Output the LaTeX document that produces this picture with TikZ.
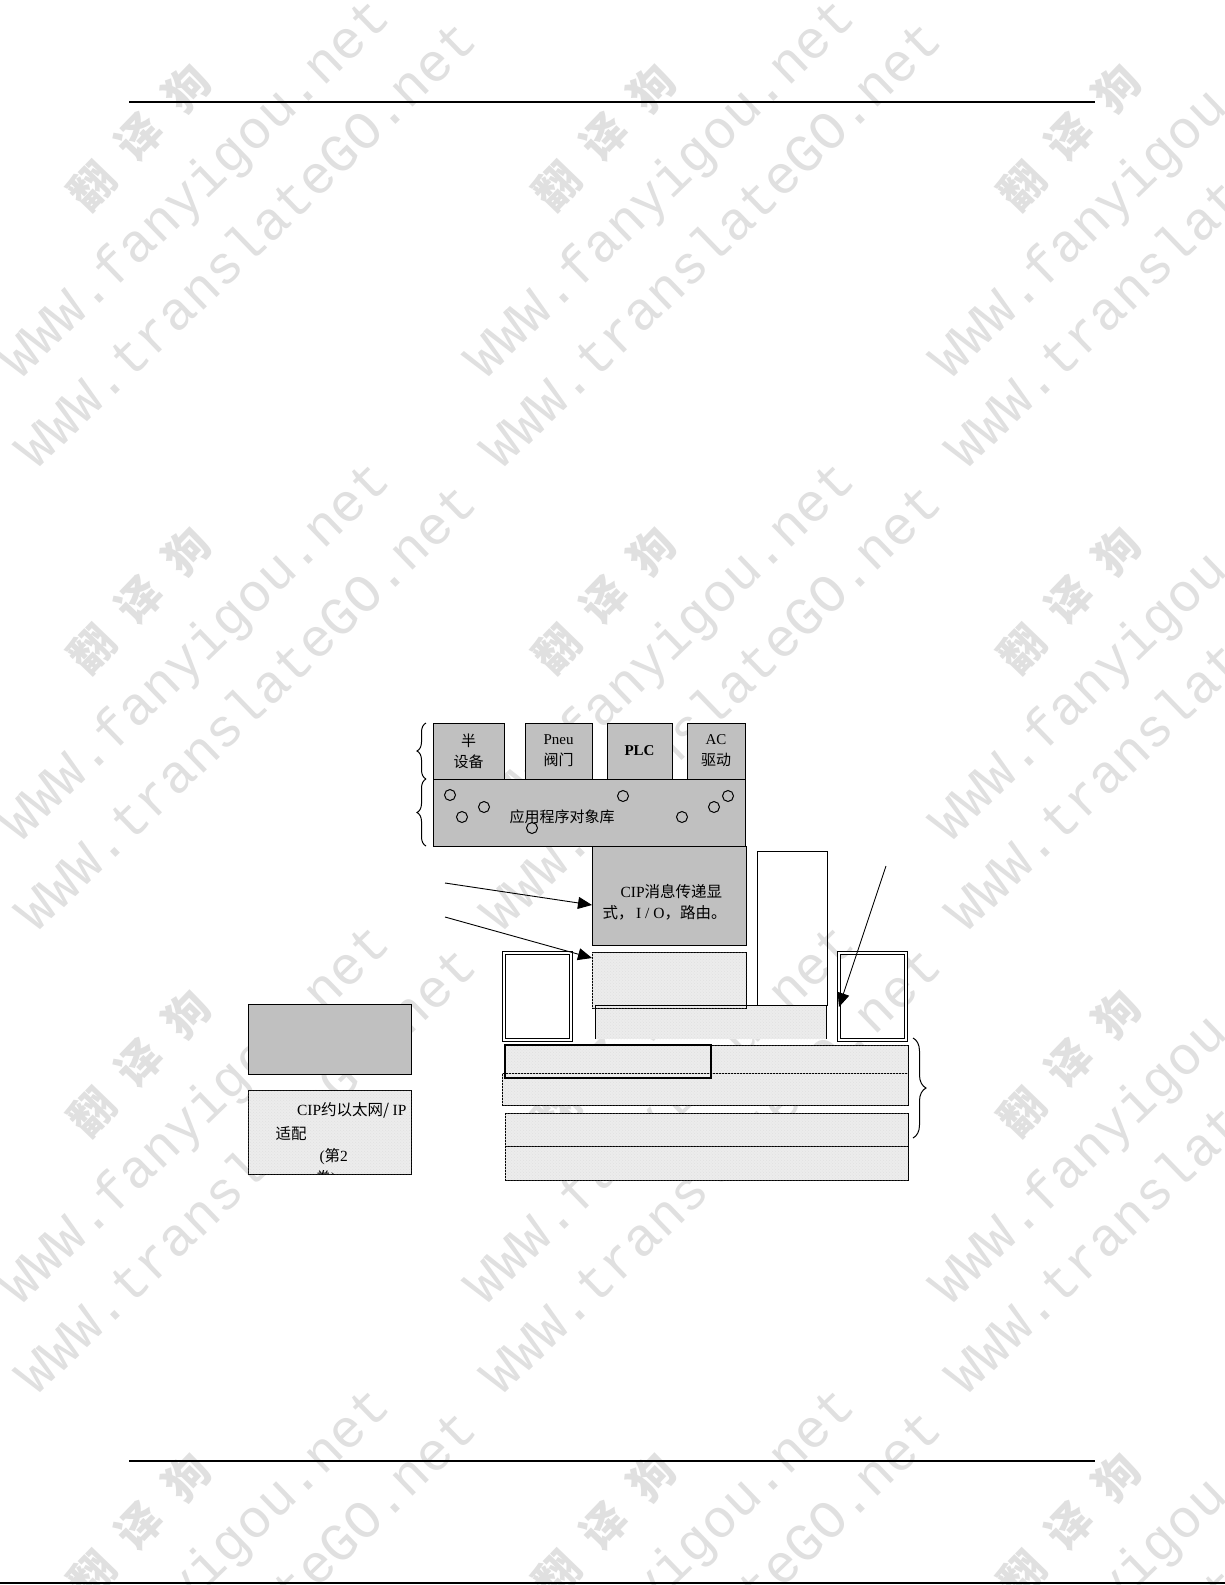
\documentclass[tikz,border=0pt]{standalone}
\usepackage{fontspec}
\setmainfont{Liberation Serif}
\newfontfamily\cjk{Noto Sans CJK SC}
\newfontfamily\wmfont{Liberation Mono}
\usetikzlibrary{arrows.meta, positioning, calc, decorations.pathreplacing, patterns}

\definecolor{boxgray}{RGB}{192,192,192}
\definecolor{speckle}{RGB}{236,236,236}
\definecolor{wmgray}{RGB}{224,224,224}

\begin{document}
\begin{tikzpicture}[x=1pt, y=-1pt, line width=1pt,
  gbox/.style={draw, fill=boxgray, inner sep=0pt, outer sep=0pt, anchor=north west,
               align=center, font=\fontsize{15}{21}\selectfont},
  sbox/.style={draw, fill=speckle, postaction={pattern=crosshatch dots, pattern color=black!12},
               inner sep=0pt, outer sep=0pt, anchor=north west},
  wbox/.style={draw, double, double distance=1.5pt, inner sep=0pt, outer sep=0pt, anchor=north west},
  txt/.style={anchor=base west, inner sep=0pt, font=\fontsize{15.5}{18}\selectfont},
  arr/.style={-{Triangle[length=14pt, width=12pt]}, line width=0.9pt},
  wmark/.style={text=wmgray, inner sep=0pt}]

  \useasboundingbox (0,0) rectangle (1225,1585);
  \fill[white] (0,0) rectangle (1225,1585);

  % watermark
  \begin{scope}
    \clip (0,0) rectangle (1225,1585);
    \foreach \i in {0,1,2} {
      \foreach \j in {0,1,2,3} {
        \begin{scope}[shift={(\i*465,\j*463)}]
          \node[wmark, rotate=46, font=\cjk\bfseries\fontsize{44}{44}\selectfont] at (139,137)
            {翻\hspace{0.55em}译\hspace{0.55em}狗};
          \node[wmark, rotate=44, font=\wmfont\fontsize{54}{54}\selectfont] at (197,190) {WWW.fanyigou.net};
          \node[wmark, rotate=44, font=\wmfont\fontsize{54}{54}\selectfont] at (245,243) {WWW.translateGO.net};
        \end{scope}
      }
    }
  \end{scope}

  % page rules
  \draw[line width=1.3pt] (129,102) -- (1095,102);
  \draw[line width=1.3pt] (129,1461) -- (1095,1461);
  \draw[line width=2pt] (0,1583) -- (1225,1583);

  % device row
  \node[gbox, minimum width=71pt, minimum height=56pt] (dev) at (433,723) {{\cjk 半}\\{\cjk 设备}};
  \node[gbox, minimum width=67pt, minimum height=56pt] (pneu) at (525,723) {Pneu\\{\cjk 阀门}};
  \node[gbox, minimum width=65pt, minimum height=56pt, font=\bfseries\fontsize{15}{21}\selectfont] (plc) at (607,723) {PLC};
  \node[gbox, minimum width=58pt, minimum height=56pt] (acd) at (687,723) {AC\\{\cjk 驱动}};

  % object library
  \node[gbox, minimum width=312pt, minimum height=67pt] (applib) at (433,779) {};
  \node[font=\cjk\fontsize{15}{18}\selectfont, inner sep=0pt] (applbl) at (562,817) {应用程序对象库};
  \foreach \cx/\cy in {450/795, 462/817, 484/807, 532/828, 623/796, 682/817, 714/807, 728/796}
    \draw (\cx,\cy) circle (5.5pt);

  \draw[decorate, decoration={brace, amplitude=9pt}] (426,779) -- (426,723);
  \draw[decorate, decoration={brace, amplitude=9pt}] (426,846) -- (426,779);

  % messaging
  \node[gbox, minimum width=154pt, minimum height=99pt] (cip) at (592,846) {};
  \node[txt] (cipa) at (620,897) {CIP{\cjk 消息传递显}};
  \node[txt] (cipb) at (602,918) {{\cjk 式，}\,I / O{\cjk ，路由。}};

  \node[sbox, draw=none, minimum width=231pt, minimum height=34pt] (netpat) at (595,1005) {};
  \node[sbox, minimum width=154pt, minimum height=56pt] (msgpat) at (592,952) {};
  \draw (netpat.south west) -- (netpat.north west) -- (netpat.north east) -- (netpat.south east);

  \node[draw, inner sep=0pt, outer sep=0pt, anchor=north west, minimum width=70pt, minimum height=154pt] (tallbox) at (757,851) {};
  \node[wbox, minimum width=67pt, minimum height=87pt] (lbox) at (504,953) {};
  \node[wbox, minimum width=67pt, minimum height=87pt] (rbox) at (839,953) {};

  % lower layers
  \node[sbox, minimum width=403pt, minimum height=28pt] (row1) at (505,1045) {};
  \node[sbox, minimum width=406pt, minimum height=32pt] (row2) at (502,1073) {};
  \node[sbox, minimum width=403pt, minimum height=33pt] (row3) at (505,1113) {};
  \node[sbox, minimum width=403pt, minimum height=34pt] (row4) at (505,1146) {};
  \node[draw, line width=2.2pt, inner sep=0pt, outer sep=0pt, anchor=north west,
        minimum width=206pt, minimum height=33pt] (tcpbox) at (505,1045) {};

  \draw[decorate, decoration={brace, amplitude=13pt}] (913,1038) -- (913,1138);

  % legend
  \node[gbox, minimum width=163pt, minimum height=70pt] (lgray) at (248,1004) {};
  \node[sbox, minimum width=163pt, minimum height=84pt] (adapt) at (248,1090) {};
  \begin{scope}
    \clip (adapt.north west) rectangle (adapt.south east);
    \node[txt, anchor=base east] (ada) at (407,1115) {CIP{\cjk 约以太网/ }IP};
    \node[txt] (adb) at (275,1139) {{\cjk 适配}};
    \node[txt] (adc) at (319,1161) {({\cjk 第}2};
    \node[txt] (add) at (315,1183) {{\cjk 卷})};
  \end{scope}

  % arrows
  \coordinate (a1s) at (445,883);
  \coordinate (a2s) at (445,917);
  \coordinate (a3s) at (886,866);
  \draw[arr] (a1s) -- (cip.west |- 0,905);
  \draw[arr] (a2s) -- (msgpat.west |- 0,958);
  \draw[arr] (a3s) -- (rbox.west |- 0,1007);
\end{tikzpicture}
\end{document}
